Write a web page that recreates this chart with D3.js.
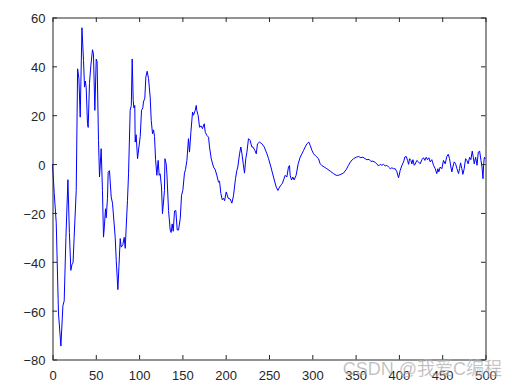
<!DOCTYPE html>
<html>
<head>
<meta charset="utf-8">
<script src="https://cdn.jsdelivr.net/npm/d3@7"></script>
<style>
  html, body { margin: 0; padding: 0; background: #fff; }
  #chart { width: 517px; height: 387px; }
</style>
</head>
<body>
<div id="chart"></div>
<script>
// Sample positions (x) and signal values (y)
const xValues = [0, 2, 4.3, 6.9, 9.7, 12, 13.5, 15.5, 17.8, 19.5, 21.2, 22.5, 23.7, 25, 27.4, 29, 30.5, 32, 34, 35.8,
    37, 37.8, 38.9, 40.4, 41.2, 42.7, 44.3, 46.2, 47.3, 48.9, 50.5, 51.5, 53.1, 54.3, 56.2, 57.7, 58.9, 60, 61.2, 62,
    63.5, 64.3, 65.8, 67.8, 69.3, 72.4, 73.6, 75.5, 76.7, 78.2, 79.3, 81.2, 82.8, 84, 85.1, 86.6, 87.8, 89.7, 91, 92,
    93.2, 94, 95, 95.5, 96.6, 98.2, 99.8, 101.3, 102.8, 104.3, 105, 106.6, 107.8, 109.3, 110.9, 112.8, 114, 115.5, 116.7, 117.8,
    119, 120.5, 122, 123.2, 124.3, 125.9, 127, 129.3, 129.8, 131.3, 132.1, 134, 135.9, 137, 138.2, 139.4, 140.9, 142.4, 144, 145.5,
    147.5, 149, 150.5, 152.4, 153.6, 155.2, 157, 158.2, 159.8, 161.7, 162.8, 164.8, 166, 166.6, 168.2, 169.8, 171.6, 173.2, 175.2, 176.4,
    178.3, 180.2, 181.3, 183.3, 185.9, 187.8, 189.7, 191.7, 192.9, 194.4, 196, 197.5, 198.7, 200.6, 202.9, 205.2, 207.1, 209, 211.3, 212.9,
    214, 216, 217.5, 218.8, 220.4, 221.7, 223.2, 224.5, 226.3, 228.2, 230.2, 231.4, 233.7, 235.3, 236.7, 239, 241.8, 244.5, 247.6, 249.5,
    252.2, 255.2, 258.3, 260.3, 262.2, 264.1, 265.6, 266.8, 268.7, 270.6, 272.5, 273.7, 274.4, 276, 277.5, 279, 281.3, 283.7, 286, 288,
    289.9, 291.8, 293.7, 296, 297.6, 299.6, 301.5, 304.5, 307.2, 309.1, 311, 313.7, 316.8, 320.7, 324.5, 327.6, 330.3, 333, 336, 339.1,
    341.8, 344.6, 347.6, 350.7, 353.4, 356.1, 358.4, 361.1, 363, 365.7, 367.7, 370, 372.6, 374.5, 376.5, 378.4, 380.3, 382.2, 384.2, 386.1,
    388, 390, 391.9, 393.8, 395.7, 397.7, 399.6, 401.5, 403.5, 405.4, 406.9, 408.5, 410, 411.2, 412.3, 413.9, 415, 416.2, 417.7, 418.8,
    420.7, 422.6, 424.6, 426.5, 428.4, 430, 431.5, 433, 434.6, 436.1, 438, 440, 441.9, 443.8, 445, 446.1, 447.7, 449.6, 451.5, 453.4,
    455.4, 457, 458.5, 460, 461.2, 462.3, 463.9, 465.4, 467, 468.9, 470, 471.2, 472.7, 473.9, 475.4, 477, 478.5, 480, 481.6, 483.1,
    484.7, 485.9, 487, 488.6, 490.2, 491.7, 493.2, 494.8, 496, 497.1, 497.9, 498.7, 499.7];

const yValues = [0, -12, -24, -61, -74.5, -58, -56, -30, -6.4, -28, -43.5, -41, -40.6, -30, -10.8, 39, 35, 19.2, 55.8, 42.4,
    31.5, 34, 31.5, 16.5, 15, 33, 40.4, 46.8, 45, 22, 43, 42, 9.7, -5.3, 6.3, -10.8, -29.9, -25, -18.3, -22,
    -14, -3.3, -2.7, -13.5, -16, -30, -39.4, -51.4, -42, -30.5, -34, -33, -30, -34.5, -25.8, -14.8, -4, 22, 24, 43,
    26, 23, 24, 9, 12, 2.2, 7, 11.3, 22, 23, 25.4, 27, 35.6, 38, 35, 27.4, 17.9, 12.4, 14, 11.3,
    2, -4.6, 1.5, -4.6, -4, -9.4, -20.3, -10.8, 2.2, 0, -4, -19, -27, -28, -24.5, -27.5, -19.2, -19, -27, -27,
    -22.3, -12.8, -10.8, -3.7, -2.2, 1.5, 10.4, 4.9, 13, 21.3, 20, 22, 24, 22, 19.9, 15.1, 15.6, 14.5, 16.5, 13,
    11.7, 11, 7, 2.2, -1.2, -2.2, -4.5, -7.4, -7, -12, -14.6, -14, -15, -11.4, -14, -14.3, -16, -13, -6, -2.6,
    -1.2, 4.2, 7, 4.2, -0.3, -3.7, 2.2, 4.9, 10.4, 9.7, 7, 7, 5.6, 4.2, 8.3, 9, 8.3, 7, 4.2, 2.2,
    -1.2, -5.3, -9.4, -10.8, -9.4, -8.5, -7.8, -6.5, -4.6, -5.3, -1.2, -0.6, -4.6, -6.5, -5.3, -6.5, -4.6, 0.1, 2.8, 4.2,
    5.6, 7, 8.3, 9, 7.6, 5.6, 4.2, 3.1, 2.2, 0.1, -0.6, -1.2, -1.9, -2.9, -3.9, -4.6, -4.6, -4.2, -3.7, -2.3,
    -0.5, 1.2, 2.2, 2.8, 3.1, 2.6, 2.8, 2.2, 1.8, 1.9, 1.1, 1.2, 0.7, 0.1, -0.8, -0.1, -0.5, -0.1, -0.8, -0.5,
    -1.2, -1.9, -1.5, -1.9, -1.9, -3.2, -5.6, -2.6, -0.5, 0.9, 2.9, 3.1, 1.5, -0.1, 2.2, 1.5, 0.1, 1.8, -0.5, 0,
    1.5, 0.9, 0.1, 1.8, 2.6, 1.5, 2.8, 1.8, 2.6, 0.9, 1.8, -0.5, -1.9, -3.9, -1.9, -3.2, -1.2, -1.9, 1.5, 0.1,
    3.1, 4, 2.2, -1.2, -3.2, -1.2, 0.9, 0.2, -1.9, -3.9, -1.9, 0.5, -1.9, -4.2, -1.9, 2.2, 1.5, 0.1, 2.8, 1.8,
    5.3, 2.8, 0.1, 2.8, -0.5, 4.9, 5.3, 1.5, -1.2, -6, 0.1, 2.8, 2.2];

const xTicks = [0, 50, 100, 150, 200, 250, 300, 350, 400, 450, 500];
const yTicks = [-80, -60, -40, -20, 0, 20, 40, 60];

const width = 517;
const height = 387;
const margin = { top: 17.5, right: 31.5, bottom: 27.5, left: 52.5 };
const axisColor = "#262626";

const svg = d3.select("#chart")
    .append("svg")
    .attr("width", width)
    .attr("height", height);

const x = d3.scaleLinear()
    .domain([0, 500])
    .range([margin.left, width - margin.right]);

const y = d3.scaleLinear()
    .domain([-80, 60])
    .range([height - margin.bottom, margin.top]);

// Signal line
const points = xValues.map((d, i) => [d, yValues[i]]);
svg.append("path")
    .datum(points)
    .attr("fill", "none")
    .attr("stroke", "#0000ff")
    .attr("stroke-width", 1)
    .attr("stroke-linejoin", "round")
    .attr("d", d3.line().x(d => x(d[0])).y(d => y(d[1])));

// MATLAB-like axes: box on, ticks pointing inward on all four sides
function styleAxis(g) {
    g.select(".domain").attr("stroke", axisColor);
    g.selectAll(".tick line").attr("stroke", axisColor);
    g.selectAll(".tick text")
        .attr("fill", axisColor)
        .style("font-family", "'Liberation Sans', Arial, Helvetica, sans-serif")
        .style("font-size", "13px");
}

svg.append("g")
    .attr("transform", `translate(0,${height - margin.bottom})`)
    .call(d3.axisBottom(x).tickValues(xTicks).tickSizeInner(-4.5).tickSizeOuter(0).tickPadding(11))
    .call(styleAxis);

svg.append("g")
    .attr("transform", `translate(0,${margin.top})`)
    .call(d3.axisTop(x).tickValues(xTicks).tickSizeInner(-4.5).tickSizeOuter(0).tickFormat(""))
    .call(styleAxis);

svg.append("g")
    .attr("transform", `translate(${margin.left},0)`)
    .call(d3.axisLeft(y).tickValues(yTicks).tickSizeInner(-4.5).tickSizeOuter(0).tickPadding(7))
    .call(styleAxis)
    .call(g => g.selectAll(".tick text").attr("dy", "0.42em"));

svg.append("g")
    .attr("transform", `translate(${width - margin.right},0)`)
    .call(d3.axisRight(y).tickValues(yTicks).tickSizeInner(-4.5).tickSizeOuter(0).tickFormat(""))
    .call(styleAxis);

// Watermark
svg.append("text")
    .attr("x", 502)
    .attr("y", 375)
    .attr("text-anchor", "end")
    .attr("font-family", "'Liberation Sans', Arial, 'Noto Sans CJK SC', sans-serif")
    .attr("font-size", "18px")
    .attr("fill", "rgba(120,120,120,0.55)")
    .attr("stroke", "rgba(255,255,255,0.4)")
    .attr("stroke-width", 0.6)
    .text("CSDN @我爱C编程");
</script>
</body>
</html>
